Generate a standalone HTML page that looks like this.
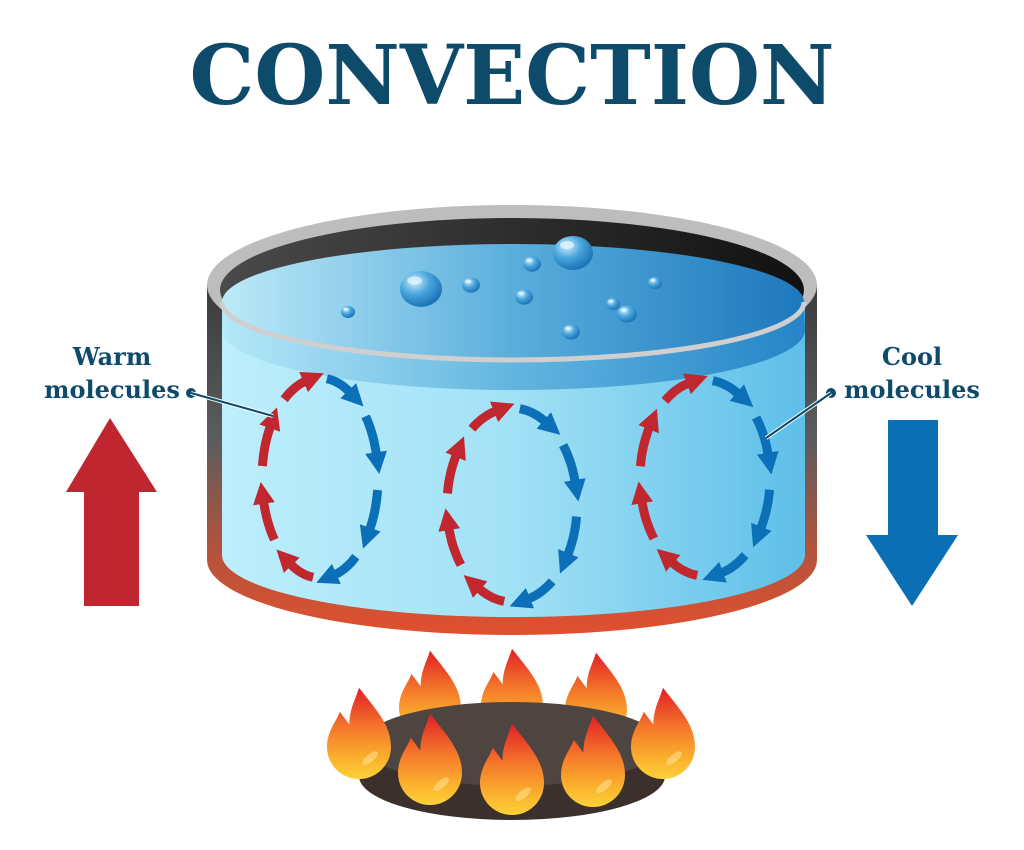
<!DOCTYPE html>
<html><head><meta charset="utf-8"><style>
html,body{margin:0;padding:0;background:#fff;width:1024px;height:850px;overflow:hidden}
svg{display:block}
.t{font-family:"DejaVu Serif","Liberation Serif",serif;font-weight:bold;fill:#0e4a6a}
</style></head><body>
<svg id="s" width="1024" height="850" viewBox="0 0 1024 850" xmlns="http://www.w3.org/2000/svg">
<defs>
<linearGradient id="potg" x1="0" y1="0" x2="0" y2="1">
<stop offset="0" stop-color="#3c3c3c"/><stop offset="0.45" stop-color="#5d5d5d"/><stop offset="0.75" stop-color="#b1533c"/><stop offset="1" stop-color="#e1502f"/></linearGradient>
<linearGradient id="waterg" x1="0" y1="0" x2="1" y2="0">
<stop offset="0" stop-color="#bdeefb"/><stop offset="0.5" stop-color="#a2e1f6"/><stop offset="1" stop-color="#5ebfe9"/></linearGradient>
<linearGradient id="surfg" x1="0" y1="0" x2="1" y2="0">
<stop offset="0" stop-color="#bdeaf8"/><stop offset="0.5" stop-color="#5aaedc"/><stop offset="1" stop-color="#1c78bd"/></linearGradient>
<linearGradient id="bandg" x1="0" y1="0" x2="1" y2="0">
<stop offset="0" stop-color="#b5e8f8"/><stop offset="0.5" stop-color="#62b5e0"/><stop offset="1" stop-color="#2585c8"/></linearGradient>
<linearGradient id="innerg" x1="0" y1="0" x2="1" y2="0">
<stop offset="0" stop-color="#4a4a4a"/><stop offset="1" stop-color="#111"/></linearGradient>
<linearGradient id="flameg" x1="0" y1="0" x2="0" y2="1">
<stop offset="0" stop-color="#e11f27"/><stop offset="0.45" stop-color="#f47a2a"/><stop offset="0.8" stop-color="#fbb52e"/><stop offset="1" stop-color="#fdd13a"/></linearGradient>
<radialGradient id="bubg" cx="0.35" cy="0.3" r="0.7">
<stop offset="0" stop-color="#cfeefc"/><stop offset="0.5" stop-color="#4aa6dc"/><stop offset="1" stop-color="#1e74b8"/></radialGradient>
<marker id="mr" viewBox="0 0 10 10" refX="2" refY="5" markerWidth="22" markerHeight="22" markerUnits="userSpaceOnUse" orient="auto"><path d="M0,0 L10,5 L0,10 z" fill="#c0272f"/></marker>
<marker id="mb" viewBox="0 0 10 10" refX="2" refY="5" markerWidth="22" markerHeight="22" markerUnits="userSpaceOnUse" orient="auto"><path d="M0,0 L10,5 L0,10 z" fill="#0b70b8"/></marker>
</defs>

<text class="t" x="512" y="104" text-anchor="middle" font-size="82" textLength="645" lengthAdjust="spacingAndGlyphs">CONVECTION</text>

<path d="M207,285 L207,560 A305,75 0 0 0 817,560 L817,285 Z" fill="url(#potg)"/>
<ellipse cx="512" cy="285" rx="305" ry="80" fill="#bdbdbd"/>
<ellipse cx="512" cy="290" rx="292" ry="72" fill="url(#innerg)"/>
<path d="M222,300 L222,555 A291,62 0 0 0 805,555 L805,300 Z" fill="url(#waterg)"/>
<ellipse cx="513" cy="302" rx="291" ry="58" fill="url(#surfg)"/>
<path d="M222,302 A291,58 0 0 0 804,302 L805,330 A291,60 0 0 1 222,330 Z" fill="url(#bandg)"/>
<path d="M222,302 A291,58 0 0 0 804,302" fill="none" stroke="#cfcfcf" stroke-width="5"/>
<g id="bub"></g>
<g id="loops"></g>

<text class="t" x="112" y="365" text-anchor="middle" font-size="24">Warm</text>
<text class="t" x="112" y="398" text-anchor="middle" font-size="24">molecules</text>
<circle cx="191" cy="393" r="5" fill="#0e4a6a"/>
<line x1="191" y1="393" x2="273" y2="416" stroke="#fff" stroke-width="4"/>
<line x1="191" y1="393" x2="273" y2="416" stroke="#0e4a6a" stroke-width="2"/>
<text class="t" x="912" y="365" text-anchor="middle" font-size="24">Cool</text>
<text class="t" x="912" y="398" text-anchor="middle" font-size="24">molecules</text>
<circle cx="831" cy="393" r="5" fill="#0e4a6a"/>
<line x1="831" y1="393" x2="766" y2="438" stroke="#fff" stroke-width="4"/>
<line x1="831" y1="393" x2="766" y2="438" stroke="#0e4a6a" stroke-width="2"/>

<path d="M110,418 L157,492 L139,492 L139,606 L84,606 L84,492 L66,492 Z" fill="#c0262f"/>
<path d="M888,420 L938,420 L938,535 L958,535 L912,606 L866,535 L888,535 Z" fill="#0a6fb5"/>

<g id="flb"></g>
<ellipse cx="512" cy="776" rx="153" ry="44" fill="#3b302c"/>
<ellipse cx="512" cy="744" rx="150" ry="42" fill="#4e4440"/>
<g id="fl"></g>
</svg>
<script>
var NS="http://www.w3.org/2000/svg";
function el(p,t,a){var e=document.createElementNS(NS,t);for(var k in a)e.setAttribute(k,a[k]);document.getElementById(p).appendChild(e);return e;}
[[421,289,21],[573,253,20],[471,285,9],[532,264,9],[524,297,9],[655,283,7],[571,332,9],[613,304,7],[627,314,10],[348,312,7]].forEach(function(b){
 el("bub","ellipse",{cx:b[0],cy:b[1],rx:b[2],ry:b[2]*0.85,fill:"url(#bubg)"});
 el("bub","ellipse",{cx:b[0]-b[2]*0.3,cy:b[1]-b[2]*0.4,rx:b[2]*0.35,ry:b[2]*0.2,fill:"#e6f7ff",opacity:0.7});
});
[[320,478,58,100],[512,505,65,97],[705,478,65,98]].forEach(function(L){
 var cx=L[0],cy=L[1],rx=L[2],ry=L[3];
 for(var i=0;i<8;i++){
  var a0=-Math.PI/2+i*Math.PI/4+0.12, a1=a0+0.45;
  var red = (i>=4);
  var col=red?"#c0272f":"#0b70b8";
  var d="";
  for(var k=0;k<=8;k++){var a=a0+(a1-a0)*k/8;d+=(k?"L":"M")+(cx+rx*Math.cos(a)).toFixed(1)+","+(cy+ry*Math.sin(a)).toFixed(1);}
  el("loops","path",{d:d,fill:"none",stroke:col,"stroke-width":9,"marker-end":red?"url(#mr)":"url(#mb)"});
 }
});
function flame(g,cx,cy,r){
 var d="M"+cx+","+(cy-r*1.85)+" C"+(cx+r*0.5)+","+(cy-r*1.2)+" "+(cx+r)+","+(cy-r*0.7)+" "+(cx+r)+","+cy+
 " A"+r+","+r+" 0 0 1 "+(cx-r)+","+cy+" C"+(cx-r)+","+(cy-r*0.5)+" "+(cx-r*0.7)+","+(cy-r*0.8)+" "+(cx-r*0.6)+","+(cy-r*1.1)+
 " L"+(cx-r*0.3)+","+(cy-r*0.7)+" C"+(cx-r*0.3)+","+(cy-r*1.2)+" "+(cx-r*0.1)+","+(cy-r*1.5)+" "+cx+","+(cy-r*1.85)+"Z";
 el(g,"path",{d:d,fill:"url(#flameg)"});
 el(g,"ellipse",{cx:cx+r*0.35,cy:cy+r*0.35,rx:r*0.3,ry:r*0.12,fill:"#ffe08a",opacity:0.6,transform:"rotate(-40 "+(cx+r*0.35)+" "+(cy+r*0.35)+")"});
}
flame("flb",430,708,31);flame("flb",512,706,31);flame("flb",596,710,31);
flame("fl",359,747,32);flame("fl",663,747,32);flame("fl",430,773,32);flame("fl",593,775,32);flame("fl",512,783,32);
</script>
</body></html>
